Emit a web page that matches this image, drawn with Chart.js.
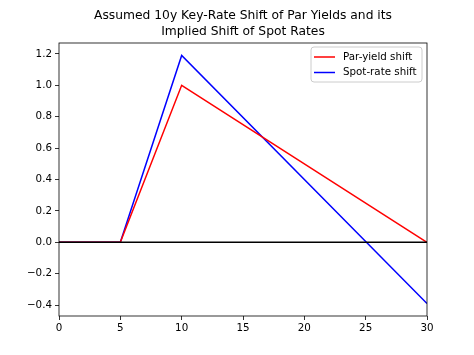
<!DOCTYPE html>
<html>
<head>
<meta charset="utf-8">
<script src="https://cdn.jsdelivr.net/npm/chart.js@4/dist/chart.umd.min.js"></script>
<style>
html,body{margin:0;padding:0;background:#fff;}
#wrap{width:474px;height:355px;}
</style>
</head>
<body>
<div id="wrap"><canvas id="c" width="474" height="355"></canvas></div>
<script>
const titleLines = ["Assumed 10y Key-Rate Shift of Par Yields and its", "Implied Shift of Spot Rates"];
const maturities = [0, 5, 10, 30];
const parYieldShift = [0, 0, 1.0, 0];
const spotRateShift = [0, 0, 1.19, -0.39];
const zeroLineX = [0, 30];
const zeroLineY = [0, 0];
const xTicks = [0, 5, 10, 15, 20, 25, 30];
const yTicks = [-0.4, -0.2, 0.0, 0.2, 0.4, 0.6, 0.8, 1.0, 1.2];
const seriesNames = ["Par-yield shift", "Spot-rate shift"];
const seriesColors = ["#ff0000", "#0000ff"];

const FONT = "'DejaVu Sans', sans-serif";
const pts = (xs, ys) => xs.map((x, i) => ({x: x, y: ys[i]}));
const fmt = v => {
  const s = Number(v).toFixed(1);
  return s.replace('-', '\u2212');
};

const customPlugin = {
  id: 'custom',
  afterDraw(chart) {
    const ctx = chart.ctx;
    const a = chart.chartArea;
    ctx.save();
    // spines
    ctx.strokeStyle = '#000';
    ctx.lineWidth = 0.8;
    ctx.strokeRect(a.left, a.top, a.right - a.left, a.bottom - a.top);
    // title
    ctx.fillStyle = '#000';
    ctx.font = '12.3px ' + FONT;
    ctx.textAlign = 'center';
    ctx.textBaseline = 'middle';
    const cx = (a.left + a.right) / 2;
    ctx.fillText(titleLines[0], cx, 16);
    ctx.fillText(titleLines[1], cx, 32);
    // legend
    const lx = 311, ly = 47, lw = 111, lh = 35, r = 3;
    ctx.beginPath();
    ctx.moveTo(lx + r, ly);
    ctx.arcTo(lx + lw, ly, lx + lw, ly + lh, r);
    ctx.arcTo(lx + lw, ly + lh, lx, ly + lh, r);
    ctx.arcTo(lx, ly + lh, lx, ly, r);
    ctx.arcTo(lx, ly, lx + lw, ly, r);
    ctx.closePath();
    ctx.fillStyle = 'rgba(255,255,255,0.8)';
    ctx.fill();
    ctx.strokeStyle = '#cccccc';
    ctx.lineWidth = 1;
    ctx.stroke();
    ctx.font = '10.3px ' + FONT;
    ctx.textAlign = 'left';
    const rows = [57, 72.5];
    seriesNames.forEach((n, i) => {
      ctx.strokeStyle = seriesColors[i];
      ctx.lineWidth = 1.5;
      ctx.beginPath();
      ctx.moveTo(314, rows[i]);
      ctx.lineTo(335, rows[i]);
      ctx.stroke();
      ctx.fillStyle = '#000';
      ctx.fillText(n, 343, rows[i]);
    });
    ctx.restore();
  }
};

new Chart(document.getElementById('c'), {
  type: 'line',
  data: {
    datasets: [
      {label: 'zero', data: pts(zeroLineX, zeroLineY), borderColor: '#000', borderWidth: 1.5, pointRadius: 0, order: 0},
      {label: seriesNames[0], data: pts(maturities, parYieldShift), borderColor: seriesColors[0], borderWidth: 1.5, pointRadius: 0, order: 1},
      {label: seriesNames[1], data: pts(maturities, spotRateShift), borderColor: seriesColors[1], borderWidth: 1.5, pointRadius: 0, order: 2}
    ]
  },
  options: {
    responsive: false,
    animation: false,
    devicePixelRatio: 1,
    layout: {padding: {top: 43, right: 47, left: 0, bottom: 0}},
    plugins: {legend: {display: false}, title: {display: false}, tooltip: {enabled: false}},
    elements: {line: {tension: 0}},
    scales: {
      x: {
        type: 'linear', min: 0, max: 30,
        afterBuildTicks: s => { s.ticks = xTicks.map(v => ({value: v})); },
        afterFit: s => { s.height = 39; },
        grid: {display: true, drawOnChartArea: false, drawTicks: true, tickLength: 4, color: '#000', lineWidth: 0.8},
        border: {display: false},
        ticks: {color: '#000', font: {family: FONT, size: 10.3}, padding: 2, maxRotation: 0, callback: v => String(v)}
      },
      y: {
        type: 'linear', min: -0.469, max: 1.269,
        afterBuildTicks: s => { s.ticks = yTicks.map(v => ({value: v})); },
        afterFit: s => { s.width = 59; },
        grid: {display: true, drawOnChartArea: false, drawTicks: true, tickLength: 4, color: '#000', lineWidth: 0.8},
        border: {display: false},
        ticks: {color: '#000', font: {family: FONT, size: 10.3}, padding: 3, callback: v => fmt(v)}
      }
    }
  },
  plugins: [customPlugin]
});
</script>
</body>
</html>
